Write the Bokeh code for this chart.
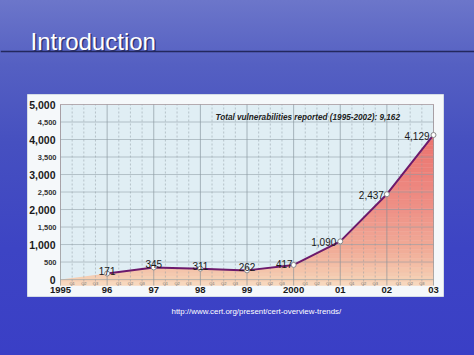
import numpy as np
from bokeh.plotting import figure
from bokeh.models import (ColumnDataSource, FixedTicker, Label, LinearAxis)
from bokeh.embed import file_html
from bokeh.resources import INLINE
from bokeh.core.properties import value

# ---------------- data ----------------
years = [1996, 1997, 1998, 1999, 2000, 2001, 2002, 2003]      # x position of each yearly total
vulns = [171, 345, 311, 262, 417, 1090, 2437, 4129]
value_labels = ["171", "345", "311", "262", "417", "1,090", "2,437", "4,129"]
start_year = 1995
start_value = 0
x_ticks = [1995, 1996, 1997, 1998, 1999, 2000, 2001, 2002, 2003]
x_tick_labels = ["1995", "96", "97", "98", "99", "2000", "01", "02", "03"]
y_major = [0, 1000, 2000, 3000, 4000, 5000]
y_minor = [500, 1500, 2500, 3500, 4500]
quarter_labels = ["Q1", "Q2", "Q3"]
slide_title = "Introduction"
chart_note = "Total vulnerabilities reported (1995-2002): 9,162"
source_url = "http://www.cert.org/present/cert-overview-trends/"

# ---------------- layout helpers ----------------
FONT = "Liberation Sans"
W, H = 474, 355
X0, X1 = 1995, 2003
Y0, Y1 = -170, 5000
FL, FR, FT, FB = 60, 433, 104, 285           # chart area edges in page pixels
PXX = (FR - FL) / (X1 - X0)
PXY = (FB - FT) / (Y1 - Y0)


def dx(px):
    return X0 + (px - FL) / PXX


def dy(py):
    return Y1 - (py - FT) / PXY


p = figure(width=W, height=H, x_range=(dx(0), dx(W)), y_range=(dy(H), dy(0)),
           output_backend="svg", toolbar_location=None,
           x_axis_location=None, y_axis_location=None,
           min_border=0, background_fill_alpha=0, border_fill_alpha=0,
           outline_line_color=None)
p.grid.visible = False

# white panel behind the chart picture
p.quad(left=dx(27), right=dx(443), top=dy(94), bottom=dy(296),
       fill_color="#f5f8fa", line_color="#d4dce6", line_width=1)
# title rule
p.quad(left=dx(0), right=dx(W), top=dy(50.2), bottom=dy(51.7),
       fill_color="#1d2152", fill_alpha=0.9, line_color=None)

# vertical gradient under the curve: bands
stops_y = [Y0, 0, 800, 2000, 3500, 5000]
stops_c = ["#f8dcc2", "#f5d0b4", "#f1ad98", "#ee9187", "#ec7b75", "#e86b67"]
rgb = np.array([[int(c[i:i + 2], 16) for i in (1, 3, 5)] for c in stops_c])
edges = np.linspace(Y0, Y1, 41)
mids = (edges[:-1] + edges[1:]) / 2
cols = []
for m in mids:
    r, g, b = (int(round(np.interp(m, stops_y, rgb[:, k]))) for k in range(3))
    cols.append("#%02x%02x%02x" % (r, g, b))
p.quad(left=X0, right=X1, bottom=edges[:-1], top=edges[1:], fill_color=cols,
       line_color=cols, line_width=0.5)

# sky above the curve
fx = [start_year] + years
fy = [start_value] + vulns
p.varea(x=fx, y1=fy, y2=Y1, fill_color="#e0eef4")

# grid lines (years solid, quarters dashed, every 500 horizontal)
q_ticks = [x + k / 4 for x in x_ticks[:-1] for k in (1, 2, 3)]
p.segment(x0=q_ticks, x1=q_ticks, y0=Y0, y1=Y1, line_color="#8d9aa2",
          line_alpha=0.5, line_dash="2 2", line_width=1)
p.segment(x0=x_ticks, x1=x_ticks, y0=Y0, y1=Y1, line_color="#7d8a92",
          line_alpha=0.6, line_width=1)
hy = sorted(y_major + y_minor)
p.segment(x0=X0, x1=X1, y0=hy, y1=hy, line_color="#8d9aa2", line_alpha=0.55, line_width=1)

# line and markers
p.line(years, vulns, line_color="#6c1a6c", line_width=2)
p.scatter(years, vulns, size=5, fill_color="white", line_color="#8a8a8a", line_width=1)

# value labels
vsrc = ColumnDataSource(dict(
    x=years, y=vulns, t=value_labels,
    align=["center", "center", "center", "center", "right", "right", "right", "right"],
    xo=[0, 0, 0, 0, -1, -4, -3, -4],
    yo=[-3, -3, -3, -3, -1, 1, 1, 1]))
p.text(x="x", y="y", text="t", source=vsrc, text_align="align", x_offset="xo",
       y_offset="yo", text_baseline="alphabetic", text_font=value(FONT),
       text_font_size="10px", text_color="#1a1a1a")

# quarter labels along the floor
qsrc = ColumnDataSource(dict(x=q_ticks, y=[0] * len(q_ticks),
                             t=quarter_labels * (len(x_ticks) - 1)))
p.text(x="x", y="y", text="t", source=qsrc, text_align="center",
       text_baseline="middle", y_offset=4, text_font=value(FONT),
       text_font_size="4px", text_color="#6f6f6f")

# y axes (thousands bold, half-thousands small) at the chart's left edge
ya = LinearAxis(fixed_location=X0, ticker=FixedTicker(ticks=y_major),
                major_label_overrides={v: f"{v:,}" for v in y_major})
yb = LinearAxis(fixed_location=X0, ticker=FixedTicker(ticks=y_minor),
                major_label_overrides={v: f"{v:,}" for v in y_minor})
for ax, fs in ((ya, "10.5px"), (yb, "7.5px")):
    ax.major_label_text_font = FONT
    ax.major_label_text_font_size = fs
    ax.major_label_text_font_style = "bold"
    ax.major_label_text_color = "#1a1a1a" if ax is ya else "#333333"
    ax.major_label_standoff = 5 if ax is ya else 4
    ax.axis_line_color = None
    ax.major_tick_line_color = None
    ax.minor_tick_line_color = None
    ax.major_tick_out = 0
    ax.major_tick_in = 0
    p.add_layout(ax, "left")

xa = LinearAxis(fixed_location=Y0, ticker=FixedTicker(ticks=x_ticks),
                major_label_overrides=dict(zip(x_ticks, x_tick_labels)))
xa.major_label_text_font = FONT
xa.major_label_text_font_size = "9.5px"
xa.major_label_text_font_style = "bold"
xa.major_label_text_color = "#1a1a1a"
xa.major_label_standoff = 1
xa.axis_line_color = None
xa.major_tick_line_color = None
xa.minor_tick_line_color = None
xa.major_tick_out = 0
xa.major_tick_in = 0
p.add_layout(xa, "below")

# chart note
p.add_layout(Label(x=dx(215), y=dy(117), text=chart_note, text_font=FONT,
                   text_font_size="8.2px", text_font_style="bold italic",
                   text_color="#222222", text_baseline="middle"))

# slide title with shadow
p.add_layout(Label(x=dx(31.5), y=dy(42), text=slide_title, text_font=FONT,
                   text_font_size="24px", text_color="#1a1f4a", text_alpha=0.7,
                   text_baseline="middle"))
p.add_layout(Label(x=dx(30), y=dy(40.5), text=slide_title, text_font=FONT,
                   text_font_size="24px", text_color="white", text_baseline="middle"))

# source url
p.add_layout(Label(x=dx(171), y=dy(311), text=source_url, text_font=FONT,
                   text_font_size="7.9px", text_color="white", text_baseline="middle"))

html = file_html(p, INLINE, title="Introduction")
css = ("<style>html,body{background:linear-gradient(180deg,#6c76ca 0%,#5560c2 18%,"
       "#4650c0 40%,#3d44c4 70%,#3a3fc6 100%);min-height:100%;}</style></head>")
html = html.replace("</head>", css, 1)
open("out.html", "w").write(html)
